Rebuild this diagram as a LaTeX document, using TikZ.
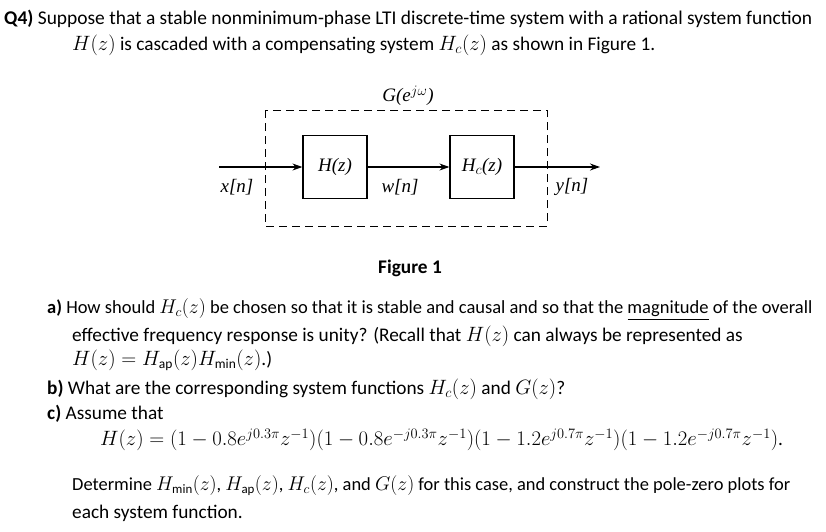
\documentclass[tikz,border=0pt]{standalone}
\usepackage{amsmath}
\usepackage{graphicx}
\usepackage{fontspec}
\setmainfont{Carlito}
\newfontfamily\dfont{Liberation Serif}
\usetikzlibrary{arrows.meta}
\begin{document}
\begin{tikzpicture}[x=1pt,y=-1pt,
  txt/.style={anchor=west,inner sep=0pt,font=\fontsize{19.3}{22}\selectfont},
  blk/.style={draw,line width=1.2pt,minimum width=64pt,minimum height=63pt,inner sep=0pt,font=\dfont\itshape\fontsize{19}{22}\selectfont},
  lab/.style={inner sep=0pt,font=\dfont\itshape\fontsize{19}{22}\selectfont},
  sig/.style={line width=1.1pt,-{Stealth[length=10pt,width=7pt]}}]
\useasboundingbox (0,0) rectangle (826,531);
\node[txt] (l1) at (4,19) {\resizebox{808pt}{!}{\textbf{Q4)} Suppose that a stable nonminimum-phase LTI discrete-time system with a rational system function}};
\node[txt] (l2) at (72,45) {$H(z)$ is cascaded with a compensating system $H_c(z)$ as shown in Figure 1.};
% diagram
\draw[line width=1pt,dash pattern=on 8pt off 5pt] (265,110) rectangle (547,226);
\node[lab] (G) at (408,96) {G(e$^{j\omega}$)};
\node[blk] (H) at (335,167) {H(z)};
\node[blk] (Hc) at (482,167) {H$_c$(z)};
\coordinate (in) at (219,167);
\coordinate (out) at (600,167);
\draw[sig] (in) -- (H.west);
\draw[sig] (H.east) -- (Hc.west);
\draw[sig] (Hc.east) -- (out);
\node[lab] (x) at (237,187) {x[n]};
\node[lab] (w) at (400,187) {w[n]};
\node[lab] (y) at (572,187) {y[n]};
\node[txt,anchor=center] (f1) at (410,268) {\textbf{Figure 1}};
\node[txt] (a1) at (47,310) {\resizebox{765pt}{!}{\textbf{a)} How should $H_c(z)$ be chosen so that it is stable and causal and so that the \underline{magnitude} of the overall}};
\node[txt] (a2) at (72,336) {effective frequency response is unity? (Recall that $H(z)$ can always be represented as};
\node[txt] (a3) at (72,360) {$H(z)=H_{\mathrm{ap}}(z)H_{\min}(z)$.)};
\node[txt] (b1) at (47,389) {\textbf{b)} What are the corresponding system functions $H_c(z)$ and $G(z)$?};
\node[txt] (c1) at (47,414) {\textbf{c)} Assume that};
\node[txt] (c2) at (100,440) {$H(z)=(1-0.8e^{j0.3\pi}z^{-1})(1-0.8e^{-j0.3\pi}z^{-1})(1-1.2e^{j0.7\pi}z^{-1})(1-1.2e^{-j0.7\pi}z^{-1})$.};
\node[txt] (d1) at (72,486) {\resizebox{718pt}{!}{Determine $H_{\min}(z)$, $H_{\mathrm{ap}}(z)$, $H_c(z)$, and $G(z)$ for this case, and construct the pole-zero plots for}};
\node[txt] (d2) at (72,513) {each system function.};
\end{tikzpicture}
\end{document}
